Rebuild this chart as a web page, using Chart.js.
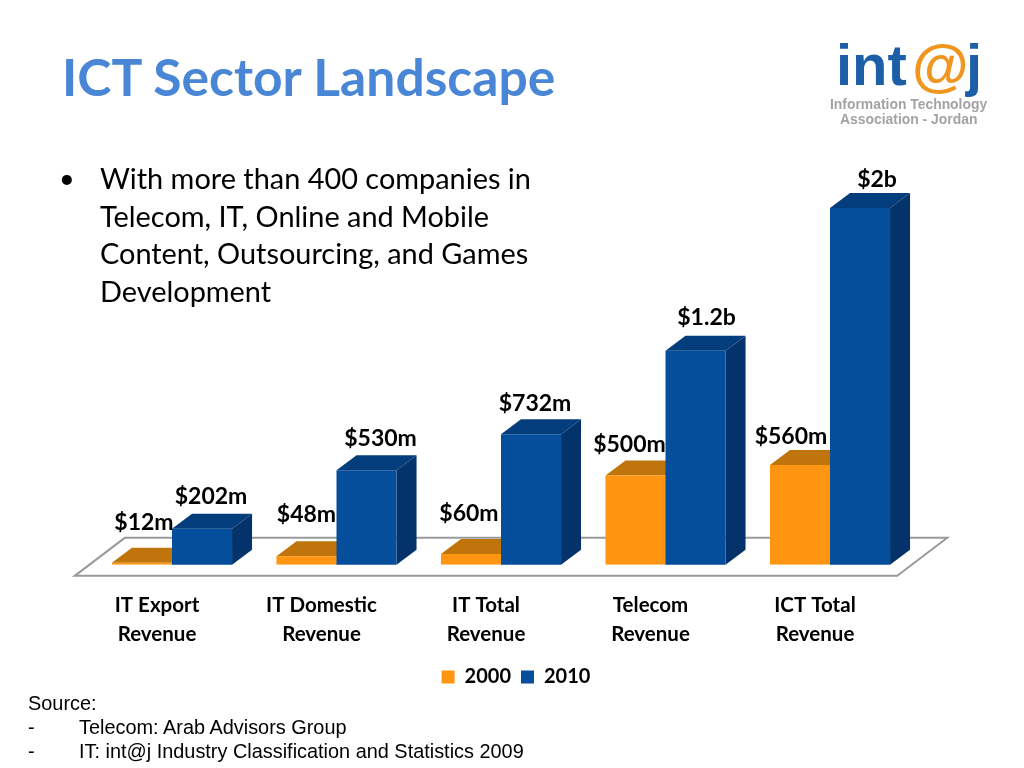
<!DOCTYPE html>
<html>
<head>
<meta charset="utf-8">
<script src="https://cdn.jsdelivr.net/npm/chart.js@4/dist/chart.umd.js"></script>
<style>
    html, body { margin: 0; padding: 0; background: #fff; }
    #slide { position: relative; width: 1024px; height: 768px; overflow: hidden; font-family: Lato, sans-serif; }
    #slide canvas { position: absolute; left: 0; top: 0; }
    .abs { position: absolute; white-space: nowrap; z-index: 2; }
    #title { left: 62px; top: 46px; font-size: 51.6px; line-height: 60px; font-weight: 700; color: #4a86d6; }
    #bullet { left: 59px; top: 159px; font-size: 27px; line-height: 37.5px; color: #000; }
    #bulletText { left: 100px; top: 159px; font-size: 28.9px; line-height: 37.5px; color: #000; }
    .src { font-family: "Liberation Sans", sans-serif; font-size: 19.9px; line-height: 24px; color: #000; }
    .logo { font-family: "Liberation Sans", sans-serif; font-weight: 700; }
    .logoMain { font-size: 58px; line-height: 58px; color: #1c5fa8; }
    .logoSub { font-size: 13.9px; line-height: 15px; color: #a3a3a6; }
</style>
</head>
<body>
<div id="slide">
    <div class="abs" id="title">ICT Sector Landscape</div>
    <div class="abs" id="bullet">•</div>
    <div class="abs" id="bulletText">With more than 400 companies in<br>Telecom, IT, Online and Mobile<br>Content, Outsourcing, and Games<br>Development</div>

    <div class="abs logo logoMain" style="left:836px;top:36px">int</div>
    <div class="abs logo logoMain" style="left:912px;top:36px;color:#f0951e">@</div>
    <div class="abs logo logoMain" style="left:966px;top:36px">j</div>
    <div class="abs logo logoSub" style="left:830px;top:97px">Information Technology</div>
    <div class="abs logo logoSub" style="left:840px;top:112px">Association - Jordan</div>

    <div class="abs src" style="left:28px;top:691px">Source:</div>
    <div class="abs src" style="left:28px;top:715px">-</div>
    <div class="abs src" style="left:79px;top:715px">Telecom: Arab Advisors Group</div>
    <div class="abs src" style="left:28px;top:739px">-</div>
    <div class="abs src" style="left:79px;top:739px">IT: int@j Industry Classification and Statistics 2009</div>

    <canvas id="chart" width="1024" height="768"></canvas>
</div>

<script>
const categories = [
    ['IT Export', 'Revenue'],
    ['IT Domestic', 'Revenue'],
    ['IT Total', 'Revenue'],
    ['Telecom', 'Revenue'],
    ['ICT Total', 'Revenue']
];
const years = ['2000', '2010'];
const values2000 = [12, 48, 60, 500, 560];
const values2010 = [202, 530, 732, 1200, 2000];
const labels2000 = ['$12m', '$48m', '$60m', '$500m', '$560m'];
const labels2010 = ['$202m', '$530m', '$732m', '$1.2b', '$2b'];

// hand placed in the original slide, so each label gets its own nudge from the bar top
const nudges2000 = [[2, -40], [0, -42], [-2, -41], [-6, -31], [-9, -28]];
const nudges2010 = [[9, -32], [14, -32], [4, -31], [11, -33], [17, -28]];

const DEPTH_X = 20;
const DEPTH_Y = 15;

function fillPoly(ctx, points, color) {
    ctx.beginPath();
    points.forEach((p, i) => i ? ctx.lineTo(p[0], p[1]) : ctx.moveTo(p[0], p[1]));
    ctx.closePath();
    ctx.fillStyle = color;
    ctx.fill();
}

function drawFaces(ctx, meta, ds) {
    meta.data.forEach(bar => {
        const half = bar.width / 2;
        const l = bar.x - half, r = bar.x + half;
        fillPoly(ctx, [[r, bar.y], [r + DEPTH_X, bar.y - DEPTH_Y], [r + DEPTH_X, bar.base - DEPTH_Y], [r, bar.base]], ds.sideColor);
        fillPoly(ctx, [[l, bar.y], [r, bar.y], [r + DEPTH_X, bar.y - DEPTH_Y], [l + DEPTH_X, bar.y - DEPTH_Y]], ds.topColor);
    });
}

const bars3d = {
    id: 'bars3d',
    afterLayout(chart) {
        // the legend sits centred on the slide, not on the plot
        chart.legend.left += 15;
        chart.legend.right += 15;
    },
    beforeDatasetsDraw(chart) {
        const { ctx, chartArea, scales } = chart;
        const base = scales.y.getPixelForValue(0);
        ctx.save();
        ctx.beginPath();
        ctx.moveTo(chartArea.left - 15, base + 11);
        ctx.lineTo(chartArea.right - 15, base + 11);
        ctx.lineTo(chartArea.right + 35, base - 27);
        ctx.lineTo(chartArea.left + 35, base - 27);
        ctx.closePath();
        ctx.fillStyle = '#fff';
        ctx.fill();
        ctx.lineWidth = 2;
        ctx.strokeStyle = '#9a9a9a';
        ctx.stroke();
        ctx.restore();
    },
    beforeDatasetDraw(chart, args) {
        // chart.js paints the first dataset last, the 2010 bars have to be on top so they wait
        if (args.index === 1) return false;
        chart.ctx.save();
        drawFaces(chart.ctx, args.meta, chart.data.datasets[args.index]);
        chart.ctx.restore();
    },
    afterDatasetsDraw(chart) {
        const ctx = chart.ctx;
        ctx.save();
        const front = chart.getDatasetMeta(1);
        drawFaces(ctx, front, chart.data.datasets[1]);
        front.data.forEach(bar => bar.draw(ctx));

        ctx.font = 'bold 23px Lato';
        ctx.fillStyle = '#000';
        ctx.textAlign = 'center';
        ctx.textBaseline = 'middle';
        chart.data.datasets.forEach((ds, i) => {
            chart.getDatasetMeta(i).data.forEach((bar, j) => {
                ctx.fillText(ds.valueLabels[j], bar.x + ds.nudges[j][0], bar.y + ds.nudges[j][1]);
            });
        });
        ctx.restore();
    }
};

new Chart(document.getElementById('chart').getContext('2d'), {
    type: 'bar',
    data: {
        labels: categories,
        datasets: [{
            label: years[0],
            data: values2000,
            valueLabels: labels2000,
            nudges: nudges2000,
            backgroundColor: '#ff9511',
            topColor: '#bf750c',
            sideColor: '#a8660a'
        }, {
            label: years[1],
            data: values2010,
            valueLabels: labels2010,
            nudges: nudges2010,
            backgroundColor: '#054e9c',
            topColor: '#033d7c',
            sideColor: '#03336a'
        }]
    },
    options: {
        responsive: false,
        animation: false,
        layout: {
            padding: { left: 89.75, right: 111.75, top: 136.6, bottom: 71 }
        },
        datasets: {
            bar: { categoryPercentage: 0.73, barPercentage: 1, borderWidth: 0 }
        },
        scales: {
            x: {
                grid: { display: false },
                border: { display: false },
                afterFit(scale) {
                    scale.height -= 10;
                },
                ticks: {
                    color: '#000',
                    maxRotation: 0,
                    autoSkip: false,
                    padding: 19,
                    labelOffset: -15,
                    font: { family: 'Lato', weight: 'bold', size: 20.5, lineHeight: 1.37 }
                }
            },
            y: { display: false, min: 0, max: 2400 }
        },
        plugins: {
            legend: {
                position: 'bottom',
                labels: {
                    color: '#000',
                    boxWidth: 13,
                    boxHeight: 13,
                    padding: 10,
                    font: { family: 'Lato', weight: 'bold', size: 20 }
                }
            },
            tooltip: { enabled: false }
        }
    },
    plugins: [bars3d]
});
</script>
</body>
</html>
